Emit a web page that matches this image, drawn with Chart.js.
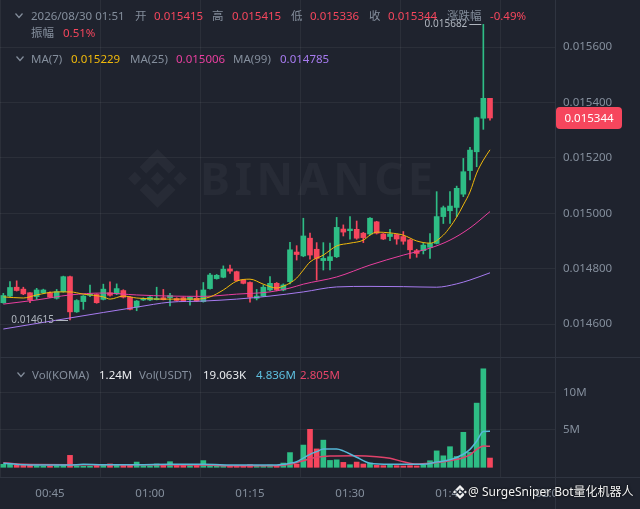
<!DOCTYPE html>
<html>
<head>
<meta charset="utf-8">
<script src="https://cdn.jsdelivr.net/npm/chart.js@4.4.1/dist/chart.umd.min.js"></script>
<style>
html, body { margin: 0; padding: 0; background: #1f232e; }
#wrap { position: relative; width: 640px; height: 509px; overflow: hidden; background: #1f232e; }
canvas { position: absolute; left: 0; }
.t { position: absolute; font-family: "Noto Sans", "Noto Sans CJK SC", sans-serif; font-size: 11.5px; line-height: 14px; white-space: nowrap; color: #848e9c; }
.r { color: #f6465d; }
.w { color: #eaecef; }
.chev { position: absolute; fill: none; stroke: #848e9c; stroke-width: 1.2; }
.wm { position: absolute; font-family: "Noto Sans", sans-serif; font-weight: 700; font-size: 45px; line-height: 45px; letter-spacing: 4.5px; color: rgba(255,255,255,0.04); }
.sig { position: absolute; font-family: "Noto Sans", "Noto Sans CJK SC", sans-serif; font-size: 12px; line-height: 15px; color: #f2f2f2; white-space: nowrap; text-shadow: 0 0 3px rgba(0,0,0,0.9); }
</style>
</head>
<body>
<div id="wrap">
    <canvas id="priceChart" width="640" height="357" style="top:0"></canvas>
    <canvas id="volChart" width="640" height="152" style="top:357px"></canvas>

    <!-- watermark -->
    <svg style="position:absolute;left:128px;top:149px" width="59" height="59" viewBox="0 0 126 126">
        <path fill="rgba(255,255,255,0.04)" d="M38.7 52.9L63 28.6l24.3 24.3 14.1-14.2L63 .3 24.6 38.7zM.3 63l14.2-14.2L28.7 63 14.5 77.2zM38.7 73.1L63 97.4l24.3-24.3 14.2 14.1L63 125.7 24.6 87.3zM97.3 63l14.2-14.2L125.7 63l-14.2 14.2zM77.4 63L63 48.6 48.6 63 63 77.4z"/>
    </svg>
    <div class="wm" style="left:200px;top:155px">BINANCE</div>

    <!-- header: candle info -->
    <svg class="chev" style="left:15px;top:13px" width="8" height="6"><polyline points="0.5,0.5 4,4.5 7.5,0.5"/></svg>
    <span class="t" style="left:31px;top:9px">2026/08/30 01:51</span>
    <span class="t" style="left:135px;top:9px">开</span>
    <span class="t r" style="left:154px;top:9px">0.015415</span>
    <span class="t" style="left:212px;top:9px">高</span>
    <span class="t r" style="left:232px;top:9px">0.015415</span>
    <span class="t" style="left:291px;top:9px">低</span>
    <span class="t r" style="left:310px;top:9px">0.015336</span>
    <span class="t" style="left:369px;top:9px">收</span>
    <span class="t r" style="left:388px;top:9px">0.015344</span>
    <span class="t" style="left:447px;top:9px">涨跌幅</span>
    <span class="t r" style="left:490px;top:9px">-0.49%</span>
    <span class="t" style="left:31px;top:26px">振幅</span>
    <span class="t r" style="left:63px;top:26px">0.51%</span>

    <!-- header: moving averages -->
    <svg class="chev" style="left:16px;top:56px" width="8" height="6"><polyline points="0.5,0.5 4,4.5 7.5,0.5"/></svg>
    <span class="t" style="left:31px;top:52px">MA(7)</span>
    <span class="t" style="left:71px;top:52px;color:#f0b90b">0.015229</span>
    <span class="t" style="left:130px;top:52px">MA(25)</span>
    <span class="t" style="left:176px;top:52px;color:#e93f9f">0.015006</span>
    <span class="t" style="left:233px;top:52px">MA(99)</span>
    <span class="t" style="left:280px;top:52px;color:#a77bf0">0.014785</span>

    <!-- header: volume -->
    <svg class="chev" style="left:17px;top:372px" width="8" height="6"><polyline points="0.5,0.5 4,4.5 7.5,0.5"/></svg>
    <span class="t" style="left:32px;top:368px">Vol(KOMA)</span>
    <span class="t w" style="left:99px;top:368px">1.24M</span>
    <span class="t" style="left:139px;top:368px">Vol(USDT)</span>
    <span class="t w" style="left:203px;top:368px">19.063K</span>
    <span class="t" style="left:256px;top:368px;color:#5ec0e0">4.836M</span>
    <span class="t" style="left:300px;top:368px;color:#e8456a">2.805M</span>

    <!-- signature -->
    <svg style="position:absolute;left:453px;top:485px" width="14" height="14" viewBox="0 0 126 126">
        <path fill="#f2f2f2" d="M38.7 52.9L63 28.6l24.3 24.3 14.1-14.2L63 .3 24.6 38.7zM.3 63l14.2-14.2L28.7 63 14.5 77.2zM38.7 73.1L63 97.4l24.3-24.3 14.2 14.1L63 125.7 24.6 87.3zM97.3 63l14.2-14.2L125.7 63l-14.2 14.2zM77.4 63L63 48.6 48.6 63 63 77.4z"/>
    </svg>
    <div class="sig" style="left:468px;top:484px">@ SurgeSniper Bot量化机器人</div>
</div>

<script>
(function() {
    'use strict';

    // =========================================
    // DATA (1 minute candles, first one 00:38)
    // =========================================
    var startMinute = 38;
    var timeTicks = [45, 60, 75, 90, 105, 120];
    var priceTicks = [0.0146, 0.0148, 0.0150, 0.0152, 0.0154, 0.0156];
    var volTicks = [5, 10];

    var opens = [
        0.014677, 0.014701, 0.014733, 0.014726, 0.014713, 0.014699, 0.014713, 0.014713, 0.014693, 0.014717,
        0.014771, 0.014644, 0.014681, 0.014704, 0.014707, 0.014689, 0.014713, 0.014709, 0.014721, 0.014697,
        0.014661, 0.014687, 0.014687, 0.014688, 0.014695, 0.014695, 0.014692, 0.014695, 0.014689, 0.014693,
        0.014681, 0.014728, 0.014764, 0.014769, 0.014799, 0.014789, 0.014759, 0.014750, 0.014693, 0.014701,
        0.014723, 0.014747, 0.014723, 0.014753, 0.014860, 0.014846, 0.014910, 0.014870, 0.014829, 0.014829,
        0.014843, 0.014943, 0.014937, 0.014942, 0.014928, 0.014925, 0.014969, 0.014925, 0.014916, 0.014923,
        0.014916, 0.014904, 0.014865, 0.014865, 0.014877, 0.014891, 0.014988, 0.015009, 0.015021, 0.015069,
        0.015154, 0.015222, 0.015343, 0.015415
    ];
    var highs = [
        0.014711, 0.014753, 0.014756, 0.014733, 0.014714, 0.014729, 0.014726, 0.014716, 0.014725, 0.014773,
        0.014773, 0.014688, 0.014703, 0.014741, 0.014709, 0.014744, 0.014752, 0.014745, 0.014724, 0.014699,
        0.014685, 0.014695, 0.014699, 0.014733, 0.014725, 0.014711, 0.014695, 0.014698, 0.014699, 0.014721,
        0.014750, 0.014783, 0.014779, 0.014810, 0.014813, 0.014791, 0.014761, 0.014752, 0.014725, 0.014741,
        0.014771, 0.014750, 0.014745, 0.014895, 0.014883, 0.014982, 0.014928, 0.014894, 0.014894, 0.014892,
        0.014985, 0.014958, 0.014988, 0.014972, 0.014931, 0.014984, 0.014971, 0.014927, 0.014942, 0.014925,
        0.014934, 0.014906, 0.014870, 0.014894, 0.014927, 0.015078, 0.015026, 0.015078, 0.015098, 0.015198,
        0.015238, 0.015347, 0.015682, 0.015415
    ];
    var lows = [
        0.014675, 0.014699, 0.014719, 0.014706, 0.014677, 0.014689, 0.014711, 0.014695, 0.014690, 0.014715,
        0.014615, 0.014642, 0.014653, 0.014699, 0.014675, 0.014687, 0.014701, 0.014706, 0.014694, 0.014651,
        0.014648, 0.014685, 0.014684, 0.014687, 0.014687, 0.014665, 0.014683, 0.014681, 0.014668, 0.014681,
        0.014679, 0.014726, 0.014762, 0.014767, 0.014783, 0.014755, 0.014745, 0.014679, 0.014687, 0.014699,
        0.014720, 0.014720, 0.014720, 0.014745, 0.014831, 0.014843, 0.014834, 0.014759, 0.014795, 0.014795,
        0.014840, 0.014918, 0.014906, 0.014906, 0.014894, 0.014922, 0.014925, 0.014905, 0.014901, 0.014888,
        0.014888, 0.014837, 0.014841, 0.014853, 0.014837, 0.014889, 0.014963, 0.014963, 0.014988, 0.015060,
        0.015120, 0.015168, 0.015303, 0.015336
    ];
    var closes = [
        0.014703, 0.014732, 0.014721, 0.014709, 0.014687, 0.014723, 0.014723, 0.014697, 0.014717, 0.014771,
        0.014644, 0.014685, 0.014701, 0.014706, 0.014677, 0.014726, 0.014704, 0.014728, 0.014697, 0.014653,
        0.014683, 0.014692, 0.014697, 0.014692, 0.014688, 0.014703, 0.014685, 0.014683, 0.014697, 0.014683,
        0.014723, 0.014777, 0.014776, 0.014798, 0.014791, 0.014757, 0.014747, 0.014697, 0.014701, 0.014733,
        0.014747, 0.014723, 0.014741, 0.014868, 0.014851, 0.014918, 0.014849, 0.014837, 0.014837, 0.014843,
        0.014949, 0.014932, 0.014943, 0.014910, 0.014912, 0.014982, 0.014928, 0.014907, 0.014925, 0.014907,
        0.014899, 0.014868, 0.014855, 0.014885, 0.014891, 0.014988, 0.015020, 0.015026, 0.015090, 0.015150,
        0.015228, 0.015345, 0.015415, 0.015344
    ];
    // volume in millions KOMA
    var volumes = [
        0.4, 0.5, 0.3, 0.25, 0.3, 0.2, 0.15, 0.2, 0.2, 0.25,
        1.6, 0.2, 0.15, 0.15, 0.25, 0.35, 0.45, 0.3, 0.25, 0.35,
        0.7, 0.2, 0.2, 0.45, 0.35, 0.75, 0.3, 0.35, 0.25, 0.3,
        0.9, 0.3, 0.2, 0.3, 0.2, 0.25, 0.2, 0.35, 0.2, 0.25,
        0.3, 0.2, 0.57, 1.97, 0.44, 2.98, 5.09, 2.46, 3.64, 0.92,
        1.0, 0.66, 0.35, 0.7, 0.44, 0.57, 0.26, 0.22, 0.26, 0.22,
        0.18, 0.22, 0.18, 0.3, 0.88, 2.2, 1.54, 2.76, 1.45, 4.69,
        2.0, 8.6, 13.2, 1.24
    ];

    // moving averages, read at candle indexes
    var ma7At  = [0, 3, 5, 8, 10, 12, 15, 16, 18, 20, 25, 29, 31, 33, 35, 37, 39, 41, 42, 43, 44, 45, 46, 48, 50, 52, 54, 55, 56, 58, 60, 62, 64, 66, 67, 68, 69, 70, 71, 72, 73];
    var ma7    = [0.014698, 0.014694, 0.014705, 0.014716, 0.014716, 0.014708, 0.014698, 0.014690, 0.014701, 0.014694,
                  0.014690, 0.014690, 0.014698, 0.014723, 0.014755, 0.014762, 0.014744, 0.014730, 0.014737, 0.014748,
                  0.014766, 0.014795, 0.014824, 0.014849, 0.014882, 0.014892, 0.014903, 0.014921, 0.014932, 0.014929,
                  0.014921, 0.014900, 0.014892, 0.014921, 0.014950, 0.014986, 0.015030, 0.015077, 0.015145, 0.015192, 0.015229];
    var ma25At = [0, 5, 10, 15, 20, 25, 30, 35, 40, 43, 45, 50, 55, 60, 64, 67, 70, 73];
    var ma25   = [0.014672, 0.014687, 0.014705, 0.014712, 0.014705, 0.014701, 0.014700, 0.014708, 0.014716, 0.014730,
                  0.014744, 0.014770, 0.014813, 0.014849, 0.014874, 0.014903, 0.014947, 0.015006];
    var ma99At = [0, 10, 20, 25, 30, 35, 40, 45, 50, 55, 60, 65, 68, 70, 73];
    var ma99   = [0.014582, 0.014622, 0.014661, 0.014679, 0.014683, 0.014690, 0.014701, 0.014716, 0.014734, 0.014736,
                  0.014735, 0.014733, 0.014745, 0.014759, 0.014785];

    var volMaFastAt = [0, 3, 10, 12, 15, 20, 25, 30, 35, 41, 43, 44, 46, 47, 48, 50, 51, 53, 55, 58, 63, 65, 67, 69, 70, 71, 72, 73];
    var volMaFast   = [0.55, 0.35, 0.3, 0.4, 0.35, 0.35, 0.4, 0.4, 0.31, 0.31, 0.54, 0.75, 1.74, 2.1, 2.45, 2.45, 2.2, 1.34,
                       0.54, 0.4, 0.4, 0.7, 1.0, 1.75, 2.4, 3.5, 4.8, 4.836];
    var volMaSlowAt = [0, 3, 10, 20, 30, 35, 41, 43, 45, 47, 49, 53, 56, 58, 60, 62, 64, 66, 69, 70, 71, 72, 73];
    var volMaSlow   = [0.62, 0.4, 0.35, 0.35, 0.3, 0.21, 0.21, 0.4, 0.88, 1.34, 1.51, 1.55, 1.42, 1.2, 0.75, 0.44, 0.54,
                       0.75, 1.29, 1.65, 2.41, 2.85, 2.805];

    // =========================================
    // STYLE
    // =========================================
    var BG = '#1f232e', GRID = 'rgba(255,255,255,0.055)', SEP = '#2f3440';
    var GREEN = '#2ebd85', RED = '#f6465d';
    var xMin = 37.5, xMax = 120.75;

    Chart.defaults.font.family = '"Noto Sans", sans-serif';
    Chart.defaults.font.size = 11.5;
    Chart.defaults.color = '#848e9c';

    function isUp(i) { return closes[i] >= opens[i]; }
    function candleColors() { return closes.map(function(c, i) { return isUp(i) ? GREEN : RED; }); }
    function pts(at, vals) { return at.map(function(i, k) { return { x: startMinute + i, y: vals[k] }; }); }
    function pad(n) { return (n < 10 ? '0' : '') + n; }
    function hhmm(m) { return pad(Math.floor(m / 60)) + ':' + pad(m % 60); }
    function setTicks(list) { return function(s) { s.ticks = list.map(function(v) { return { value: v }; }); }; }

    function lineDs(data, color, width) {
        return {
            type: 'line', data: data, borderColor: color, borderWidth: width,
            pointRadius: 0, cubicInterpolationMode: 'monotone', fill: false
        };
    }

    // =========================================
    // PLUGINS
    // =========================================
    var frame = {
        id: 'frame',
        afterDraw: function(chart, args, opts) {
            var c = chart.ctx, a = chart.chartArea, w = chart.width, h = chart.height;
            c.save();
            if (opts.clipAxis) {
                c.fillStyle = BG;
                c.fillRect(a.right + 1, a.bottom + 1, w - a.right, h - a.bottom);
            }
            c.strokeStyle = SEP;
            c.lineWidth = 1;
            c.beginPath();
            var x = Math.round(a.right) + 0.5;
            c.moveTo(x, 0); c.lineTo(x, h);
            if (opts.edges) {
                c.moveTo(0, Math.round(a.top) + 0.5); c.lineTo(w, Math.round(a.top) + 0.5);
                c.moveTo(0, Math.round(a.bottom) + 0.5); c.lineTo(w, Math.round(a.bottom) + 0.5);
            }
            c.stroke();
            c.restore();
        }
    };

    var priceMarks = {
        id: 'priceMarks',
        afterDraw: function(chart) {
            var c = chart.ctx, xs = chart.scales.x, ys = chart.scales.y, a = chart.chartArea;
            var hi = highs.indexOf(Math.max.apply(null, highs));
            var lo = lows.indexOf(Math.min.apply(null, lows));
            c.save();
            c.font = '10px "Noto Sans", sans-serif';
            c.fillStyle = '#b0b6bf';
            c.strokeStyle = '#b0b6bf';
            c.lineWidth = 1;
            [[hi, highs[hi]], [lo, lows[lo]]].forEach(function(m) {
                var px = xs.getPixelForValue(startMinute + m[0]);
                var py = Math.round(ys.getPixelForValue(m[1])) + 0.5;
                c.beginPath(); c.moveTo(px - 14, py); c.lineTo(px - 2, py); c.stroke();
                c.textAlign = 'right'; c.textBaseline = 'middle';
                c.fillText(m[1].toFixed(6), px - 16, py);
            });

            // last price tag
            var last = closes.length - 1;
            var y = ys.getPixelForValue(closes[last]);
            c.fillStyle = isUp(last) ? GREEN : RED;
            c.beginPath();
            if (c.roundRect) c.roundRect(a.right + 1, y - 11, 66, 22, 4); else c.rect(a.right + 1, y - 11, 66, 22);
            c.fill();
            c.fillStyle = '#ffffff';
            c.font = '11.5px "Noto Sans", sans-serif';
            c.textAlign = 'center'; c.textBaseline = 'middle';
            c.fillText(closes[last].toFixed(6), a.right + 34, y + 0.5);
            c.restore();
        }
    };

    // =========================================
    // PRICE PANE
    // =========================================
    var colors = candleColors();

    new Chart(document.getElementById('priceChart'), {
        type: 'bar',
        data: {
            datasets: [
                lineDs(pts(ma7At, ma7), '#f0b90b', 1),
                lineDs(pts(ma25At, ma25), '#e93f9f', 1),
                lineDs(pts(ma99At, ma99), '#a77bf0', 1),
                {
                    data: opens.map(function(o, i) { return { x: startMinute + i, y: [o, closes[i]] }; }),
                    backgroundColor: colors, barThickness: 5, minBarLength: 1, grouped: false
                },
                {
                    data: lows.map(function(l, i) { return { x: startMinute + i, y: [l, highs[i]] }; }),
                    backgroundColor: colors, barThickness: 1, grouped: false
                }
            ]
        },
        options: {
            responsive: false, animation: false,
            layout: { padding: 0 },
            plugins: { legend: { display: false }, tooltip: { enabled: false }, frame: {} },
            scales: {
                x: {
                    type: 'linear', min: xMin, max: xMax, offset: false,
                    border: { display: false },
                    grid: { color: GRID, drawTicks: false },
                    ticks: { display: false },
                    afterBuildTicks: setTicks(timeTicks),
                    afterFit: function(s) { s.height = 0; s.paddingLeft = 0; s.paddingRight = 0; }
                },
                y: {
                    position: 'right', min: 0.014481, max: 0.01577,
                    border: { display: false },
                    grid: { color: GRID, drawTicks: false },
                    ticks: { padding: 8, callback: function(v) { return v.toFixed(6); } },
                    afterBuildTicks: setTicks(priceTicks),
                    afterFit: function(s) { s.width = 85; s.paddingTop = 0; s.paddingBottom = 0; }
                }
            }
        },
        plugins: [frame, priceMarks]
    });

    // =========================================
    // VOLUME PANE
    // =========================================
    new Chart(document.getElementById('volChart'), {
        type: 'bar',
        data: {
            datasets: [
                lineDs(pts(volMaFastAt, volMaFast), '#56b8d8', 1.5),
                lineDs(pts(volMaSlowAt, volMaSlow), '#e0426a', 1.5),
                {
                    data: volumes.map(function(v, i) { return { x: startMinute + i, y: v }; }),
                    backgroundColor: colors, barThickness: 5, grouped: false
                }
            ]
        },
        options: {
            responsive: false, animation: false,
            layout: { padding: 0 },
            plugins: { legend: { display: false }, tooltip: { enabled: false }, frame: { edges: true, clipAxis: true } },
            scales: {
                x: {
                    type: 'linear', min: xMin, max: xMax, offset: false,
                    border: { display: false },
                    grid: { color: GRID, drawTicks: false },
                    ticks: { padding: 10, maxRotation: 0, autoSkip: false, callback: function(v) { return hhmm(v); } },
                    afterBuildTicks: setTicks(timeTicks),
                    afterFit: function(s) { s.height = 32; s.paddingLeft = 0; s.paddingRight = 0; }
                },
                y: {
                    position: 'right', min: -1.3, max: 14.78,
                    border: { display: false },
                    grid: { color: GRID, drawTicks: false },
                    ticks: { padding: 8, callback: function(v) { return v + 'M'; } },
                    afterBuildTicks: setTicks(volTicks),
                    afterFit: function(s) { s.width = 85; s.paddingTop = 0; s.paddingBottom = 0; }
                }
            }
        },
        plugins: [frame]
    });
})();
</script>
</body>
</html>
